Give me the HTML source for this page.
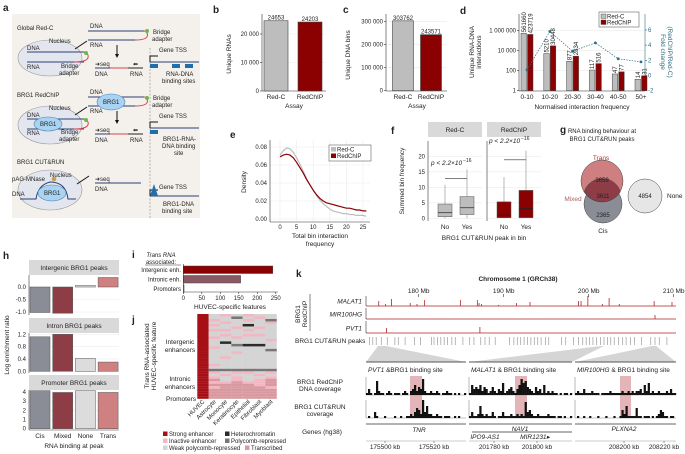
<!DOCTYPE html>
<html><head><meta charset="utf-8"><style>
html,body{margin:0;padding:0;background:#fff}
svg{display:block;font-family:"Liberation Sans",sans-serif}
</style></head><body>
<svg id="fig" width="685" height="454" viewBox="0 0 685 454" xmlns="http://www.w3.org/2000/svg">
<g font-size="6" fill="#222">
<text x="3" y="11" font-size="10" font-weight="bold">a</text>
<rect x="12" y="14" width="188" height="204" fill="#f4f1ec"/>
<line x1="150" y1="48" x2="150" y2="218" stroke="#888" stroke-dasharray="2,1.5" stroke-width="0.6"/>
<text x="17" y="30">Global Red-C</text>
<ellipse cx="50" cy="58" rx="32" ry="18" fill="#e4e6ef" stroke="#999" stroke-width="0.6"/>
<text x="49" y="43">Nucleus</text>
<text x="27" y="50">DNA</text>
<line x1="27" y1="52" x2="84" y2="52" stroke="#2b3f73"/>
<line x1="27" y1="62" x2="84" y2="62" stroke="#2b3f73"/>
<path d="M74 62 Q90 62 88 55 Q86 52 84 52" fill="none" stroke="#d9434f"/>
<circle cx="86" cy="53" r="2" fill="#6bb84a"/>
<text x="27" y="69">RNA</text>
<text x="61" y="68">Bridge</text>
<text x="59" y="75">adapter</text>
<line x1="75" y1="49" x2="87" y2="41" stroke="#111"/>
<text x="90" y="28">DNA</text>
<line x1="88" y1="31" x2="144" y2="31" stroke="#2b3f73"/>
<line x1="88" y1="40" x2="135" y2="40" stroke="#2b3f73"/>
<path d="M135 40 Q150 40 147 33 Q146 31 144 31" fill="none" stroke="#d9434f"/>
<circle cx="147" cy="31" r="2" fill="#6bb84a"/>
<text x="90" y="47">RNA</text>
<text x="153" y="34">Bridge</text>
<text x="152" y="41">adapter</text>
<line x1="117" y1="45" x2="117" y2="56" stroke="#111"/>
<path d="M115 54 L117 58 L119 54Z" fill="#111"/>
<text x="95" y="66">➜seq</text>
<text x="133" y="66">⬅</text>
<line x1="95" y1="68" x2="110" y2="68" stroke="#2b3f73"/>
<line x1="110" y1="68" x2="128" y2="68" stroke="#d9434f"/>
<line x1="128" y1="68" x2="143" y2="68" stroke="#222"/>
<text x="95" y="76">DNA</text>
<text x="130" y="76">RNA</text>
<path d="M150 62 V56 H158" fill="none" stroke="#111"/>
<text x="159" y="52">Gene TSS</text>
<line x1="150" y1="62" x2="199" y2="62" stroke="#2b3f73"/>
<rect x="150" y="64" width="8" height="4" fill="#1f6fad"/>
<rect x="172" y="64" width="8" height="4" fill="#1f6fad"/>
<rect x="185" y="64" width="8" height="4" fill="#1f6fad"/>
<text x="166" y="76">RNA-DNA</text>
<text x="162" y="83">binding sites</text>
<text x="17" y="97">BRG1 RedChIP</text>
<ellipse cx="50" cy="125" rx="32" ry="19" fill="#e4e6ef" stroke="#999" stroke-width="0.6"/>
<text x="49" y="110">Nucleus</text>
<text x="27" y="117">DNA</text>
<line x1="27" y1="119" x2="84" y2="119" stroke="#2b3f73"/>
<line x1="27" y1="129" x2="84" y2="129" stroke="#2b3f73"/>
<path d="M74 129 Q90 129 88 122 Q86 119 84 119" fill="none" stroke="#d9434f"/>
<circle cx="86" cy="120" r="2" fill="#6bb84a"/>
<ellipse cx="48" cy="124" rx="14" ry="7" fill="#a9d3f0" stroke="#4a86b8" stroke-width="0.6"/>
<text x="40" y="126">BRG1</text>
<text x="27" y="135">RNA</text>
<text x="61" y="134">Bridge</text>
<text x="59" y="141">adapter</text>
<line x1="75" y1="115" x2="87" y2="107" stroke="#111"/>
<text x="90" y="94">DNA</text>
<line x1="88" y1="97" x2="144" y2="97" stroke="#2b3f73"/>
<line x1="88" y1="106" x2="135" y2="106" stroke="#2b3f73"/>
<path d="M135 106 Q150 106 147 99 Q146 97 144 97" fill="none" stroke="#d9434f"/>
<circle cx="147" cy="98" r="2" fill="#6bb84a"/>
<ellipse cx="111" cy="102" rx="14" ry="8" fill="#a9d3f0" stroke="#4a86b8" stroke-width="0.6"/>
<text x="103" y="104">BRG1</text>
<text x="90" y="113">RNA</text>
<text x="153" y="100">Bridge</text>
<text x="152" y="107">adapter</text>
<line x1="117" y1="111" x2="117" y2="122" stroke="#111"/>
<path d="M115 120 L117 124 L119 120Z" fill="#111"/>
<text x="95" y="132">➜seq</text>
<text x="133" y="132">⬅</text>
<line x1="95" y1="134" x2="110" y2="134" stroke="#2b3f73"/>
<line x1="110" y1="134" x2="128" y2="134" stroke="#d9434f"/>
<line x1="128" y1="134" x2="143" y2="134" stroke="#222"/>
<text x="95" y="142">DNA</text>
<text x="130" y="142">RNA</text>
<path d="M150 128 V122 H158" fill="none" stroke="#111"/>
<text x="159" y="118">Gene TSS</text>
<line x1="150" y1="128" x2="199" y2="128" stroke="#2b3f73"/>
<rect x="150" y="130" width="8" height="4" fill="#1f6fad"/>
<text x="163" y="141">BRG1-RNA-</text>
<text x="162" y="148">DNA binding</text>
<text x="174" y="155">site</text>
<text x="17" y="164">BRG1 CUT&amp;RUN</text>
<ellipse cx="50" cy="190" rx="32" ry="20" fill="#e4e6ef" stroke="#999" stroke-width="0.6"/>
<text x="50" y="177">Nucleus</text>
<text x="12" y="181">pAG-MNase</text>
<circle cx="54" cy="179" r="2.3" fill="#c9a046"/>
<path d="M20 199 H36 Q38 185 50 182 Q66 182 68 199 H76" fill="none" stroke="#2b3f73"/>
<ellipse cx="52" cy="193" rx="14" ry="8" fill="#a9d3f0" stroke="#4a86b8" stroke-width="0.6"/>
<text x="44" y="195">BRG1</text>
<text x="12" y="196">DNA</text>
<line x1="77" y1="184" x2="89" y2="176" stroke="#111"/>
<text x="95" y="181">➜seq</text>
<line x1="95" y1="183" x2="141" y2="183" stroke="#2b3f73"/>
<text x="95" y="191">DNA</text>
<path d="M150 196 V190 H158" fill="none" stroke="#111"/>
<text x="159" y="189">Gene TSS</text>
<line x1="150" y1="196" x2="199" y2="196" stroke="#2b3f73"/>
<path d="M150 196 L154 184 L158 196Z" fill="#1f6fad"/>
<text x="163" y="206">BRG1-DNA</text>
<text x="162" y="213">binding site</text>
</g>
</svg>
<script>
const NS='http://www.w3.org/2000/svg';
const svg=document.getElementById('fig');
function mk(tag,attrs,name,parent){
  const el=document.createElementNS(NS,tag);
  for(const k in attrs) el.setAttribute(k,attrs[k]);
  
  
  (parent||svg).appendChild(el);
  return el;
}
function tx(x,y,str,name,size,anchor,extra){
  const a=Object.assign({x:x,y:y,'font-size':size||6,'text-anchor':anchor||'start',fill:'#222'},extra||{});
  const el=mk('text',a,name);
  el.textContent=str;
  return el;
}
function vtx(x,y,str,name,size,extra){
  const a=Object.assign({x:0,y:0,'font-size':size||6.5,'text-anchor':'middle',fill:'#222',transform:`translate(${x},${y}) rotate(-90)`},extra||{});
  const el=mk('text',a,name);
  el.textContent=str;
  return el;
}
function ln(x1,y1,x2,y2,stroke,name,w,extra){return mk('line',Object.assign({x1,y1,x2,y2,stroke,'stroke-width':w||0.6},extra||{}),name);}
function rc(x,y,w,h,fill,name,extra){return mk('rect',Object.assign({x,y,width:w,height:h,fill},extra||{}),name);}
const GRAY='#bdbdbd', RED='#8b0000';

// ===== Panel b =====
const bCats=['Red-C','RedChIP'];
const bVals=[24653,24203];
const bTicks=[0,10000,20000];
const bTickLabels=['0','10 000','20 000'];
tx(213,13,'b','panel-label-b',10,'start',{'font-weight':'bold'});
const yB=v=>91-v*28.5/10000;
const xB=i=>276+i*34;
bTicks.forEach((t,i)=>{ln(262,yB(t),326,yB(t),'#ebebeb','grid-b');tx(259,yB(t)+2,bTickLabels[i],'y-tick-b',6,'end');ln(260,yB(t),262,yB(t),'#333','tick-b');});
ln(262,14,262,91,'#333','y-axis-b');ln(262,91,326,91,'#333','x-axis-b');
bVals.forEach((v,i)=>{rc(xB(i)-12,yB(v),24,91-yB(v),i?RED:GRAY,'bar-b-'+bCats[i],{stroke:'#444','stroke-width':0.6});tx(xB(i),yB(v)-1,String(v),'value-label-b',6,'middle');tx(xB(i),99,bCats[i],'x-tick-b',6.5,'middle');});
tx(294,108,'Assay','x-axis-title-b',6.5,'middle');
vtx(231,54,'Unique RNAs','y-axis-title-b');

// ===== Panel c =====
const cCats=['Red-C','RedChIP'];
const cVals=[303762,243571];
const cTicks=[0,100000,200000,300000];
const cTickLabels=['0','100 000','200 000','300 000'];
const yC=v=>90.7-v*23/100000;
const xC=i=>403+i*28;
cTicks.forEach((t,i)=>{ln(386,yC(t),447,yC(t),'#ebebeb','grid-c');tx(383,yC(t)+2,cTickLabels[i],'y-tick-c',6,'end');ln(384,yC(t),386,yC(t),'#333','tick-c');});
ln(386,14,386,91,'#333','y-axis-c');ln(386,91,447,91,'#333','x-axis-c');
cVals.forEach((v,i)=>{rc(xC(i)-10.5,yC(v),21,90.7-yC(v),i?RED:GRAY,'bar-c-'+cCats[i],{stroke:'#444','stroke-width':0.6});tx(xC(i),yC(v)-1,String(v),'value-label-c',6,'middle');tx(xC(i),99,cCats[i],'x-tick-c',6.5,'middle');});
tx(417,108,'Assay','x-axis-title-c',6.5,'middle');
vtx(350,55,'Unique DNA bins','y-axis-title-c');
tx(343,13,'c','panel-label-c',10,'start',{'font-weight':'bold'});

// ===== Panel d =====
const dCats=['0-10','10-20','20-30','30-40','40-50','50+'];
const dRedC=[561660,5210,877,117,47,14];
const dRedChIP=[423719,30448,2834,516,77,31];
const dFold=[0.75,5.8,3.2,4.3,2.2,1.8];
const dTicks=[1,100,10000,1000000];
const dTickLabels=['1','100','10 000','1 000 000'];
const dFoldTicks=[-2,0,2,4,6];
tx(460,14,'d','panel-label-d',10,'start',{'font-weight':'bold'});
const yD=v=>90.7-Math.log10(v)*10;
const xD=i=>527+i*22.8;
const yFc=f=>75.5-f*7.59;
dTicks.forEach((t,i)=>{ln(519,yD(t),645,yD(t),'#ebebeb','grid-d');tx(516,yD(t)+2,dTickLabels[i],'y-tick-d',6,'end');ln(517,yD(t),519,yD(t),'#333','tick-d');});
ln(519,14,519,91,'#333','y-axis-d');ln(519,91,645,91,'#333','x-axis-d');ln(645,14,645,91,'#2d6f80','y-axis-right-d');
dFoldTicks.forEach(t=>{ln(645,yFc(t),647,yFc(t),'#2d6f80','tick-right-d');tx(648,yFc(t)+2,String(t),'y-tick-right-d',6,'start',{fill:'#2d6f80'});});
dCats.forEach((c,i)=>{
  const x=xD(i);
  rc(x-6,yD(dRedC[i]),5.5,90.7-yD(dRedC[i]),GRAY,'bar-d-redc-'+c,{stroke:'#444','stroke-width':0.5});
  rc(x+0.5,yD(dRedChIP[i]),5.5,90.7-yD(dRedChIP[i]),RED,'bar-d-redchip-'+c,{stroke:'#444','stroke-width':0.5});
  vtx(0,0,String(dRedC[i]),'value-label-d-redc',6,{'text-anchor':'start',transform:`translate(${x-1.2},${yD(dRedC[i])-1}) rotate(-90)`});
  vtx(0,0,String(dRedChIP[i]),'value-label-d-redchip',6,{'text-anchor':'start',transform:`translate(${x+5.3},${yD(dRedChIP[i])-1}) rotate(-90)`});
  tx(x,99,c,'x-tick-d',6.5,'middle');
});
mk('polyline',{points:dFold.map((f,i)=>xD(i)+','+yFc(f)).join(' '),fill:'none',stroke:'#2d6f80','stroke-width':0.7,'stroke-dasharray':'1.5,1.2'},'fold-change-line');
dFold.forEach((f,i)=>mk('circle',{cx:xD(i),cy:yFc(f),r:1.4,fill:'#2d6f80'},'fold-change-point'));
tx(582,109,'Normalised interaction frequency','x-axis-title-d',6.5,'middle');
vtx(474,52,'Unique RNA-DNA','y-axis-title-d-1');vtx(481,52,'interactions','y-axis-title-d-2');
vtx(0,0,'Fold change','y-axis-right-title-1',6.5,{transform:'translate(661,52) rotate(90)',fill:'#2d6f80'});
vtx(0,0,'(RedChIP/Red-C)','y-axis-right-title-2',6.5,{transform:'translate(668,52) rotate(90)',fill:'#2d6f80'});
rc(599,12,40,15,'#fff','legend-d',{stroke:'#444','stroke-width':0.5});
rc(601,14,5,4.5,GRAY,'legend-swatch-redc',{stroke:'#444','stroke-width':0.4});tx(607,18.5,'Red-C','legend-label-redc',6);
rc(601,20,5,4.5,RED,'legend-swatch-redchip',{stroke:'#444','stroke-width':0.4});tx(607,24.5,'RedChIP','legend-label-redchip',6);

// ===== Panel e =====
const eX=[0,1,2,3,4,5,6,7,8,9,10,11,12,13,14,15,16,17,18,19,20,21,22,23,24,25,26];
const eRedC=[0.071,0.076,0.079,0.078,0.074,0.068,0.061,0.053,0.045,0.038,0.032,0.026,0.021,0.017,0.014,0.011,0.009,0.008,0.007,0.006,0.006,0.005,0.005,0.004,0.004,0.004,0.003];
const eRedChIP=[0.069,0.071,0.072,0.071,0.068,0.063,0.057,0.051,0.044,0.038,0.032,0.027,0.023,0.020,0.018,0.017,0.016,0.015,0.014,0.013,0.012,0.012,0.011,0.010,0.010,0.009,0.009];
const eYTicks=[0,0.02,0.04,0.06,0.08];
const eXTicks=[0,5,10,15,20,25];
tx(230,138,'e','panel-label-e',10,'start',{'font-weight':'bold'});
const xE=v=>280+v*3.32;const yE=v=>219-v*900;
rc(270,140,100,82,'#fff','plot-bg-e');
eYTicks.forEach(t=>{ln(270,yE(t),370,yE(t),'#ececec','grid-e');tx(267,yE(t)+2,t.toFixed(2),'y-tick-e',6,'end');});
eXTicks.forEach(t=>{ln(xE(t),140,xE(t),222,'#ececec','grid-e-x');tx(xE(t),229,String(t),'x-tick-e',6,'middle');});
ln(270,140,270,222,'#333','y-axis-e');ln(270,222,370,222,'#333','x-axis-e');
mk('polyline',{points:eX.map((x,i)=>xE(x)+','+yE(eRedC[i])).join(' '),fill:'none',stroke:'#bdbdbd','stroke-width':1.2},'density-line-redc');
mk('polyline',{points:eX.map((x,i)=>xE(x)+','+yE(eRedChIP[i])).join(' '),fill:'none',stroke:RED,'stroke-width':1.2},'density-line-redchip');
tx(320,238,'Total bin interaction','x-axis-title-e-1',6.5,'middle');tx(320,246,'frequency','x-axis-title-e-2',6.5,'middle');
vtx(246,182,'Density','y-axis-title-e');
rc(329,145,42,16,'#fff','legend-e',{stroke:'#444','stroke-width':0.5});
rc(331,147,5,4.5,GRAY,'legend-e-swatch-redc');tx(337,151.5,'Red-C','legend-e-redc',6);
rc(331,153.5,5,4.5,RED,'legend-e-swatch-redchip');tx(337,158,'RedChIP','legend-e-redchip',6);

// ===== Panel f =====
const fFacets=['Red-C','RedChIP'];
const fGroups=['No','Yes'];
const fQ1=[0.5,1.2,0.2,0.2];
const fMed=[1.8,3.4,1.0,3.1];
const fQ3=[4.6,7.0,5.3,9.0];
const fMax=[10.8,15.8,13.3,21.8];
const fTicks=[0,5,10,15,20];
tx(391,134,'f','panel-label-f',10,'start',{'font-weight':'bold'});
const yF=v=>218.3-v*3.1;
const fPanelX=[428,487];
fFacets.forEach((f,p)=>{
  const x0=fPanelX[p];
  rc(x0,122,54,15,'#d9d9d9','facet-header-f-'+f);
  tx(x0+27,132,f,'facet-label-f',6.5,'middle');
  rc(x0,141,54,80,'#fff','plot-bg-f');
  fTicks.forEach(t=>ln(x0,yF(t),x0+54,yF(t),'#ececec','grid-f'));
  ln(x0,141,x0,221,'#333','y-axis-f');
  fGroups.forEach((g,j)=>{
    const k=p*2+j, cx=x0+17+j*22;
    ln(cx,yF(0),cx,yF(fMax[k]),'#888','whisker-f',0.6);
    rc(cx-7,yF(fQ3[k]),14,yF(fQ1[k])-yF(fQ3[k]),p?RED:GRAY,'box-f-'+f+'-'+g,{stroke:'#555','stroke-width':0.5});
    ln(cx-7,yF(fMed[k]),cx+7,yF(fMed[k]),'#222','median-f',0.7);
    tx(cx,229,g,'x-tick-f',6.5,'middle');
  });
  ln(x0+17,yF(p?20.8:14.8)+6,x0+39,yF(p?20.8:14.8)+6,'#333','p-bracket-f');
});
tx(431,165,'p < 2.2×10','p-value-f-redc',6.5,'start',{'font-style':'italic'});tx(463,162,'−16','p-exp-f-redc',5);
tx(489,143,'p < 2.2×10','p-value-f-redchip',6.5,'start',{'font-style':'italic'});tx(521,140,'−16','p-exp-f-redchip',5);
fTicks.forEach(t=>tx(425,yF(t)+2,String(t),'y-tick-f',6,'end'));
tx(484,240,'BRG1 CUT&RUN peak in bin','x-axis-title-f',6.5,'middle');
vtx(404,181,'Summed bin frequency','y-axis-title-f');

// ===== Panel g =====
const gLabels=['Trans only','Mixed','Cis only','None'];
const gCounts=[3659,3611,2365,4854];
tx(560,133,'g','panel-label-g',10,'start',{'font-weight':'bold'});
tx(602,133,'RNA binding behaviour at','g-title-1',6,'middle');tx(602,141,'BRG1 CUT&RUN peaks','g-title-2',6,'middle');
mk('circle',{cx:603,cy:204,r:19,fill:'#8a8d96',stroke:'#444','stroke-width':0.5},'venn-cis');
mk('circle',{cx:602,cy:181,r:21,fill:'#cf7f7f',stroke:'#444','stroke-width':0.5},'venn-trans');
mk('path',{d:'M584.3 191.5 A21 21 0 0 0 620.4 191.7 A19 19 0 0 0 584.3 191.5Z',fill:'#8e3c45',stroke:'#444','stroke-width':0.5},'venn-mixed');
mk('circle',{cx:645,cy:196,r:17,fill:'#e6e6e6',stroke:'#444','stroke-width':0.5},'venn-none');
tx(602,182,String(gCounts[0]),'venn-count-trans',6,'middle');
tx(603,198,String(gCounts[1]),'venn-count-mixed',6,'middle');
tx(603,217,String(gCounts[2]),'venn-count-cis',6,'middle');
tx(645,198,String(gCounts[3]),'venn-count-none',6,'middle');
tx(601,160,'Trans','venn-label-trans',6.5,'middle',{fill:'#b03030'});
tx(573,201,'Mixed','venn-label-mixed',6.5,'middle',{fill:'#b06060'});
tx(667,198,'None','venn-label-none',6.5,'start');
tx(603,233,'Cis','venn-label-cis',6.5,'middle');

// ===== Panel h =====
const hCats=['Cis','Mixed','None','Trans'];
const hFacets=['Intergenic BRG1 peaks','Intron BRG1 peaks','Promoter BRG1 peaks'];
const hInter=[-1.02,-1.05,0.06,0.38];
const hIntron=[1.12,1.2,0.42,0.3];
const hProm=[4.15,3.95,4.15,3.95];
const hTicks1=[-1.0,-0.5,0.0];const hTickLab1=['-1.0','-0.5','0.0'];
const hTicks2=[0,0.4,0.8,1.2];const hTickLab2=['0.0','0.4','0.8','1.2'];
const hTicks3=[0,1,2,3,4];
const hColors=['#8a8d96','#8e3c45','#dcdcdc','#cf8080'];
tx(3,259,'h','panel-label-h',10,'start',{'font-weight':'bold'});
const hPanels=[
 {vals:hInter,ticks:hTicks1,labs:hTickLab1,top:275,bot:315,y0:287,scale:25},
 {vals:hIntron,ticks:hTicks2,labs:hTickLab2,top:333,bot:373,y0:371.3,scale:30.8},
 {vals:hProm,ticks:hTicks3,labs:hTicks3.map(String),top:390,bot:430,y0:428.7,scale:9.17}
];
const xH=i=>40+i*22.7;
hPanels.forEach((P,p)=>{
  rc(29,P.top-15,90,15,'#d9d9d9','facet-header-h');
  tx(74,P.top-5,hFacets[p],'facet-label-h',6.5,'middle');
  rc(29,P.top,90,P.bot-P.top,'#fff','plot-bg-h');
  const y=v=>P.y0-v*P.scale;
  P.ticks.forEach((t,i)=>{ln(29,y(t),119,y(t),'#ececec','grid-h');tx(26,y(t)+2,P.labs[i],'y-tick-h',6,'end');});
  ln(29,P.top,29,P.bot,'#333','y-axis-h');
  P.vals.forEach((v,i)=>{const a=Math.min(y(v),y(0)),b=Math.abs(y(v)-y(0));rc(xH(i)-10,a,20,Math.max(b,0.8),hColors[i],'bar-h-'+hCats[i],{stroke:'#555','stroke-width':0.5});});
});
ln(29,430,119,430,'#333','x-axis-h');
hCats.forEach((c,i)=>tx(xH(i),438,c,'x-tick-h',6.5,'middle'));
tx(74,448,'RNA binding at peak','x-axis-title-h',6.5,'middle');
vtx(9,345,'Log enrichment ratio','y-axis-title-h');

// ===== Panel i =====
const iCats=['Intergenic enh.','Intronic enh.','Promoters'];
const iVals=[242,155,2];
const iTicks=[0,50,100,150,200,250];
const iColors=['#8b0000','#8a5a63','#cccccc'];
tx(132,258,'i','panel-label-i',10,'start',{'font-weight':'bold'});
const xI=v=>183.3+v*0.3698;
iTicks.forEach(t=>{ln(xI(t),292,xI(t),294,'#333','tick-i');tx(xI(t),300,String(t),'x-tick-i',6,'middle');});
iVals.forEach((v,i)=>{rc(xI(0),266+i*9.5,xI(v)-xI(0),7.5,iColors[i],'bar-i-'+i,{stroke:'#444','stroke-width':0.5});tx(181,272+i*9.5,iCats[i],'y-tick-i',6,'end');});
ln(183.3,264,183.3,292,'#333','y-axis-i');ln(183.3,292,278,292,'#333','x-axis-i');
tx(161,257,'Trans RNA','i-title-1',6,'middle',{'font-style':'italic'});tx(161,264,'associated:','i-title-2',6,'middle');
ln(145,265,181,265,'#333','i-title-underline');
tx(230,309,'HUVEC-specific features','x-axis-title-i',6.5,'middle');

// ===== Panel j =====
const jCols=['HUVEC','Astrocyte','Monocyte','Keratinocyte','Epithelial','Fibroblast','Myoblast'];
const jStates={S:'#a50f15',I:'#f4b6c2',W:'#d4d4d4',H:'#2b2b2b',P:'#777777',T:'#d89aa0'};
const jRows=['SWIWIWW','SWWPWIW','SIWWIWP','SWIWWWI','SIWWHWW','SWWIWIW','SIIWIWW','SWWWWWW','SWIWIIW','SIWIWWW','SWWWWWI','SWHWWWW','SWWPHHW','SIWWWWW','SWWWWWP','SWWIWWW','SWWWWWW','SWIWWWW','SWWWWWW','SWWWWWW','SIWWWWW','SWWWWWW',
 'SPPPPPP','SIWIIWI','SWIWWIW','SIWIWWI','STWIWIT','SIITIIT','STTTTIT','SITTTTI','STTTTTT','STTTTTT','STTTTTT','STTTTTT'];
tx(132,323,'j','panel-label-j',10,'start',{'font-weight':'bold'});
const jx0=197.3,jw=11.34,jy0=314,jh=84.7/jRows.length;
jRows.forEach((r,ri)=>r.split('').forEach((s,ci)=>rc(jx0+ci*jw,jy0+ri*jh,jw+0.1,jh+0.1,jStates[s],'heat-cell-'+jCols[ci])));
jCols.forEach((c,i)=>tx(0,0,c,'x-tick-j',6,'end',{transform:`translate(${jx0+i*jw+jw/2+2},${402}) rotate(-45)`}));
tx(180,344,'Intergenic','j-row-label-1',6.5,'middle');tx(180,352,'enhancers','j-row-label-1b',6.5,'middle');
tx(180,381,'Intronic','j-row-label-2',6.5,'middle');tx(180,389,'enhancers','j-row-label-2b',6.5,'middle');
tx(196,401,'Promoters','j-row-label-3',6.5,'end');
vtx(149,356,'Trans RNA-associated','y-axis-title-j-1');vtx(156,356,'HUVEC-specific feature','y-axis-title-j-2');
const jLeg=[['S','Strong enhancer',163,436],['H','Heterochromatin',225,436],['I','Inactive enhancer',163,443],['P','Polycomb-repressed',225,443],['W','Weak polycomb-repressed',163,450],['T','Transcribed',245,450]];
jLeg.forEach(l=>{rc(l[2],l[3]-4.5,4.5,4.5,jStates[l[0]],'legend-j-swatch');tx(l[2]+6,l[3],l[1],'legend-j-label',6);});

// ===== Panel k =====
const kMbTicks=[180,190,200,210];
const kMalatPos=[175.3,176.1,176.8,179.0,179.8,180.7,184.9,186.9,187.1,187.4,189.4,191.5,193.1,198.8,199.1,199.9,201.6,202.4,203.6,207.7,209.8];
const kMalatH=[0.5,0.2,0.7,0.3,0.2,0.6,0.6,0.6,0.3,0.2,0.1,0.3,0.4,0.5,0.5,1.0,0.2,0.8,0.2,0.5,0.4];
const kMirPos=[207.8];const kMirH=[0.4];
const kPvtPos=[176.2,187.2];const kPvtH=[0.5,0.6];
const kPeaks=[174.2,174.6,175.0,175.6,176.3,177.2,177.6,178.4,179.5,180.2,181.5,181.8,182.2,182.6,183.0,183.4,183.9,184.3,185.2,186.0,186.5,187.3,187.8,188.3,189.0,190.7,191.2,191.6,192.0,192.4,192.8,193.2,193.6,194.0,194.4,194.9,195.3,196.8,197.3,198.2,198.8,199.3,199.7,200.1,200.5,200.9,201.4,201.8,202.2,202.6,203.0,203.5,204.0,204.4,204.9,205.4,206.2,207.3,207.8,208.3,209.2];
const kCovDNA=[
 [1,3,1,0,1,7,2,1,1,0,1,2,1,0,1,1,1,0,1,2,1,0,2,3,5,2,4,3,8,2,1,1,2,1,1,2,1,0,1,1,2,1,1,0,1,0,1,0,0,1],
 [1,5,3,4,3,5,2,4,3,1,2,4,2,1,3,2,6,1,2,3,4,2,1,3,5,8,6,7,4,3,2,1,4,2,3,1,5,1,2,1,2,1,1,0,1,0,1,1,0,1],
 [1,2,1,1,3,1,1,1,2,1,1,1,0,1,1,1,1,2,1,1,1,1,1,2,1,1,2,1,2,1,2,2,3,1,5,2,6,1,2,1,1,2,1,1,1,2,1,3,1,1]
];
const kCovCR=[
 [0,1,0,0,3,1,0,0,0,1,0,0,0,0,1,0,0,1,0,0,1,1,2,1,3,5,4,2,9,3,6,2,2,1,1,2,1,1,0,1,1,1,0,0,1,0,1,0,0,0],
 [1,3,1,1,2,6,2,1,2,1,1,3,1,0,1,1,3,1,1,1,2,1,1,2,1,2,1,8,3,4,2,1,1,2,1,1,1,1,2,1,1,1,0,1,1,0,1,0,0,1],
 [0,1,0,0,1,0,0,1,0,0,0,1,0,0,0,1,0,0,0,1,0,0,1,4,2,6,1,1,1,1,5,1,1,0,1,1,1,0,1,0,1,2,4,3,1,1,0,1,1,0]
];
const kPanels=['PVT1','MALAT1','MIR100HG'];
tx(296,277,'k','panel-label-k',10,'start',{'font-weight':'bold'});
tx(518,281,'Chromosome 1 (GRCh38)','k-title',6.5,'middle',{'font-weight':'bold'});
const xK=mb=>418.7+(mb-180)*8.5;
kMbTicks.forEach(t=>{ln(xK(t),294,xK(t),297,'#333','tick-k');tx(xK(t),293,t+' Mb','x-tick-k',6.5,'middle');});
const tracks=[['MALAT1',306,kMalatPos,kMalatH],['MIR100HG',319,kMirPos,kMirH],['PVT1',333,kPvtPos,kPvtH]];
tracks.forEach(T=>{
  ln(366,T[1],676,T[1],'#b22222','track-baseline-'+T[0],0.8);
  tx(362,T[1]-2.5,T[0],'track-label-'+T[0],6.5,'end',{'font-style':'italic'});
  T[2].forEach((p,i)=>ln(xK(p),T[1],xK(p),T[1]-T[3][i]*10,'#b22222','track-peak-'+T[0],0.8));
});
ln(366,296,366,306,'#333','track-frame');ln(366,308,366,319,'#333','track-frame');ln(366,321,366,333,'#333','track-frame');
ln(310,294,310,331,'#333','redchip-bracket');
vtx(300,314,'BRG1','redchip-label-1',6.5);vtx(307,314,'RedChIP','redchip-label-2',6.5);
tx(295,343,'BRG1 CUT&RUN peaks','cutrun-peaks-label',6.5);
kPeaks.forEach(p=>ln(xK(p),337,xK(p),345,'#9a9a9a','cutrun-peak-tick',0.7));
mk('polygon',{points:'378,346 386,346 466,362 366,362',fill:'#d5d5d5'},'zoom-connector-1');
mk('polygon',{points:'601,346 604,346 572,362 469,362',fill:'#d5d5d5'},'zoom-connector-2');
mk('polygon',{points:'652,346 656,346 676,362 575,362',fill:'#d5d5d5'},'zoom-connector-3');
const kpx=[[366,466],[469,572],[575,676]];
const kHl=[[410,422],[515,527],[620,631]];
const kTitles=[['PVT1',' &BRG1 binding site'],['MALAT1',' & BRG1 binding site'],['MIR100HG',' & BRG1 binding site']];
kpx.forEach((P,p)=>{
  ln(P[0],362,P[1],362,'#555','zoom-panel-top',1);
  const t=tx(P[0]+2,372,'','zoom-title-'+kPanels[p],6.5,'start');
  const s1=document.createElementNS(NS,'tspan');s1.setAttribute('font-style','italic');s1.textContent=kTitles[p][0];t.appendChild(s1);
  const s2=document.createElementNS(NS,'tspan');s2.textContent=kTitles[p][1];t.appendChild(s2);
  rc(kHl[p][0],376,kHl[p][1]-kHl[p][0],42,'#e3b5b8','highlight-'+kPanels[p]);
  [[kCovDNA[p],395,'dna-coverage'],[kCovCR[p],418,'cutrun-coverage']].forEach(C=>{
    const arr=C[0],w=(P[1]-P[0])/arr.length;
    ln(P[0],C[1]-18,P[0],C[1],'#888','coverage-axis');
    ln(P[0],C[1],P[1],C[1],'#888','coverage-baseline',0.6);
    arr.forEach((v,i)=>{if(v>0)rc(P[0]+i*w,C[1]-v*2,w+0.2,v*2,'#111',C[2]+'-bar');});
  });
  ln(P[0],424,P[1],424,'#333','gene-line',0.8);
});
tx(320,384,'BRG1 RedChIP','cov-label-1a',6.5,'middle');tx(320,391,'DNA coverage','cov-label-1b',6.5,'middle');
tx(320,409,'BRG1 CUT&RUN','cov-label-2a',6.5,'middle');tx(320,416,'coverage','cov-label-2b',6.5,'middle');
tx(322,434,'Genes (hg38)','genes-label',6.5,'middle');
tx(419,432,'TNR','gene-tnr',6.5,'middle',{'font-style':'italic'});
tx(520,431,'NAV1','gene-nav1',6.5,'middle',{'font-style':'italic'});
ln(472,432,572,432,'#333','gene-line-2',0.8);
tx(485,439,'IPO9-AS1','gene-ipo9',6.5,'middle',{'font-style':'italic'});
tx(535,439,'MIR1231▸','gene-mir1231',6.5,'middle',{'font-style':'italic'});
tx(624,431,'PLXNA2','gene-plxna2',6.5,'middle',{'font-style':'italic'});
const kKb=[['175500 kb',385],['175520 kb',434],['201780 kb',494],['201800 kb',537],['208200 kb',624],['208220 kb',664]];
kpx.forEach(P=>ln(P[0],441,P[1],441,'#999','kb-axis'));
kKb.forEach(k=>{ln(k[1],441,k[1],443,'#555','kb-tick');tx(k[1],449,k[0],'kb-label',6.5,'middle');});
</script>
</body></html>
